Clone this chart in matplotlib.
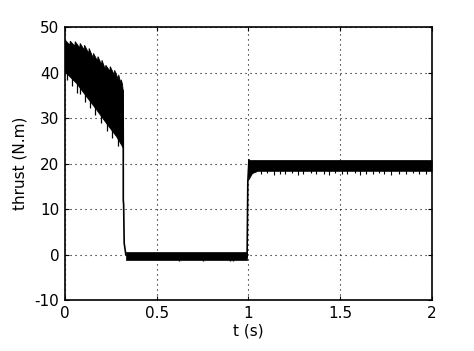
import matplotlib
matplotlib.use("Agg")
import matplotlib.pyplot as plt

plt.rcParams['font.family'] = ['DejaVu Sans']
plt.rcParams['axes.unicode_minus'] = False

# oscillating start-up region: upper edge teeth (peak / valley pairs)
t_osc = [0.0, 0.002, 0.027, 0.029, 0.054, 0.056, 0.081, 0.083, 0.105, 0.107,
         0.130, 0.132, 0.154, 0.156, 0.178, 0.180, 0.200, 0.202, 0.221, 0.223,
         0.245, 0.247, 0.269, 0.271, 0.291, 0.293, 0.305, 0.307, 0.314, 0.317]
osc_hi = [46.5, 47.1, 46.0, 46.9, 45.8, 46.8, 45.4, 46.4, 45.0, 46.0,
          44.2, 45.3, 43.2, 44.2, 42.5, 43.5, 41.7, 42.7, 40.6, 41.6,
          40.3, 41.3, 39.5, 40.5, 38.5, 39.5, 37.6, 38.4, 37.4, 36.2]
# lower edge body
t_osc_lo = [0.0, 0.064, 0.118, 0.173, 0.227, 0.282, 0.314, 0.317]
osc_lo = [40.2, 37.6, 34.7, 31.8, 28.8, 25.9, 23.7, 23.5]
# thin downward spikes on the lower edge
osc_spike_t = [0.012, 0.040, 0.068, 0.083, 0.111, 0.138, 0.165, 0.198, 0.229, 0.256, 0.289]
osc_spike_lo = [38.4, 37.0, 35.6, 35.2, 33.6, 32.3, 30.7, 28.9, 27.2, 25.7, 23.9]

# fall to zero
t_drop = [0.317, 0.318, 0.318, 0.320, 0.323, 0.332]
y_drop = [36.0, 23.5, 12.0, 11.0, 2.5, 0.0]

# near-zero band
t_zero = [0.332, 0.993]
zero_hi = [0.6, 0.6]
zero_lo = [-1.1, -1.1]
zero_spikes = [0.62, 0.75, 0.90, 0.915]

# step up at t = 1 s
t_step = [0.993, 0.997, 0.999, 1.003]
y_step = [-0.5, 16.0, 17.5, 20.8]

# ~20 N.m band
t_twenty = [1.0, 1.02, 1.05, 1.999]
twenty_hi = [20.8, 20.8, 20.8, 20.8]
twenty_lo = [16.5, 17.9, 18.4, 18.4]
twenty_spikes = [1.07, 1.10, 1.14, 1.17, 1.20, 1.24, 1.27, 1.30, 1.34, 1.37,
                 1.41, 1.44, 1.47, 1.51, 1.54, 1.58, 1.61, 1.64, 1.68, 1.71,
                 1.74, 1.78, 1.82, 1.86, 1.90, 1.93, 1.97]
twenty_spike_lo = [17.6, 17.9, 17.5, 17.8, 17.6, 17.9, 17.5, 17.7, 17.9, 17.6,
                   17.8, 17.5, 17.9, 17.6, 17.7, 17.9, 17.5, 17.8, 17.6, 17.9,
                   17.7, 17.5, 17.8, 17.6, 17.9, 17.6, 17.7]

xticks = [0, 0.5, 1, 1.5, 2]
xtick_labels = ['0', '0.5', '1', '1.5', '2']
yticks = [-10, 0, 10, 20, 30, 40, 50]

fig = plt.figure(figsize=(4.74, 3.51), dpi=100)
ax = fig.add_axes([0.137, 0.145, 0.774, 0.778])

# oscillation envelope as one polygon: teeth along the top, body edge back along the bottom
ax.fill(t_osc + t_osc_lo[::-1], osc_hi + osc_lo[::-1], color='black', lw=0.6, zorder=2)
ax.vlines(osc_spike_t, osc_spike_lo, [v + 2.5 for v in osc_spike_lo], color='black', lw=0.9, zorder=2.2)
ax.plot(t_drop, y_drop, color='black', lw=1.2, zorder=2.3)
ax.fill_between(t_zero, zero_lo, zero_hi, color='black', lw=0.5, zorder=2.3)
ax.vlines(zero_spikes, -1.5, 0, color='black', lw=1.0, zorder=2.3)
ax.plot(t_step, y_step, color='black', lw=1.2, zorder=2.3)
ax.fill_between(t_twenty, twenty_lo, twenty_hi, color='black', lw=0.5, zorder=2.3)
ax.vlines(twenty_spikes, twenty_spike_lo, 18.6, color='black', lw=0.8, zorder=2.3)

ax.set_xlim(0, 2)
ax.set_ylim(-10, 50)
ax.set_xticks(xticks)
ax.set_xticklabels(xtick_labels)
ax.set_yticks(yticks)
ax.tick_params(direction='in', length=3, width=0.8, top=True, right=True,
               labelsize=11, pad=4)
ax.grid(True, color='black', linestyle=(0, (1, 3.5)), lw=0.8)
ax.set_axisbelow(True)
for sp in ax.spines.values():
    sp.set_linewidth(1.2)
    sp.set_zorder(3)

ax.set_xlabel('t (s)', fontsize=11, labelpad=2)
ax.set_ylabel('thrust (N.m)', fontsize=11, labelpad=5)

fig.savefig('out.png', dpi=100)
